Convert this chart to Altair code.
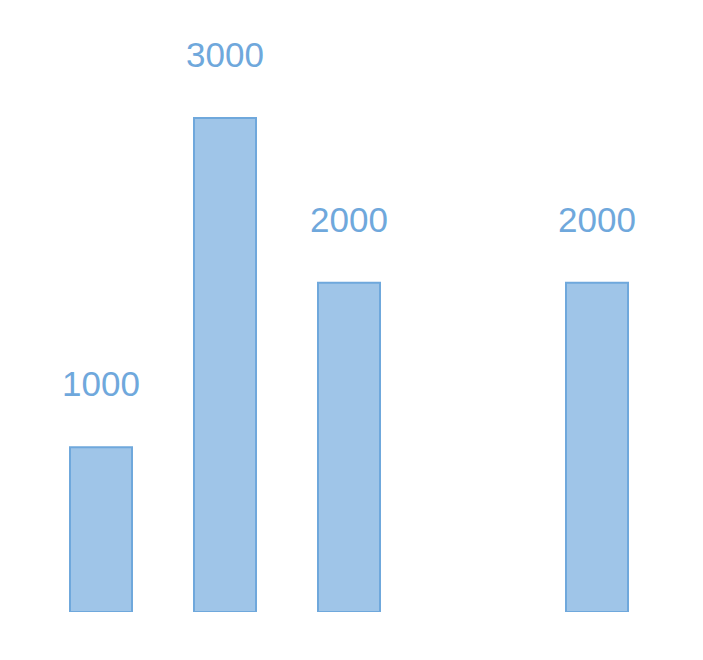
import altair as alt
import pandas as pd

categories = ["A", "B", "C", "D", "E"]
values = [1000, 3000, 2000, None, 2000]
labels = ["1000", "3000", "2000", "", "2000"]

df = pd.DataFrame({"cat": categories, "val": values, "label": labels})

x = alt.X("cat:N", sort=categories, axis=None,
          scale=alt.Scale(paddingInner=0.5, paddingOuter=0.25))
y = alt.Y("val:Q", axis=None, scale=alt.Scale(domain=[0, 3650], nice=False))

bars = alt.Chart(df).mark_bar(color="#9fc5e8", stroke="#6fa8dc", strokeWidth=2).encode(x=x, y=y)
text = alt.Chart(df).mark_text(baseline="alphabetic", dy=-51, fontSize=35,
                               font="Liberation Sans", color="#6fa8dc").encode(
    x=x, y=y, text="label:N")

chart = (bars + text).properties(
    width=620, height=601,
    autosize=alt.AutoSizeParams(type="none"),
    padding={"left": 31, "top": 3, "right": 0, "bottom": 0},
).configure_view(stroke=None)

chart.save("out.html", embed_options={"renderer": "svg", "actions": False})
